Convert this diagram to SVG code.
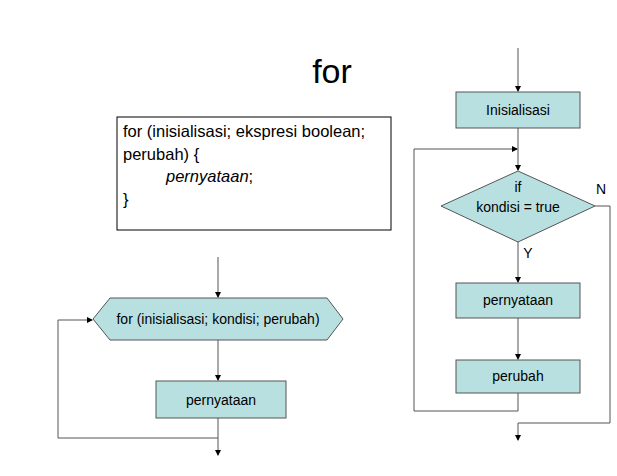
<svg xmlns="http://www.w3.org/2000/svg" width="617" height="476" viewBox="0 0 617 476">
<style>
text{font-family:"Liberation Sans",Arial,sans-serif;fill:#000}
.n{fill:#b9e0e0;stroke:#555;stroke-width:1}
.c{fill:none;stroke:#555;stroke-width:1}
.t{font-size:14px;text-anchor:middle}
.code{font-size:16.5px}
</style>
<defs><marker id="a" markerWidth="6" markerHeight="6" refX="5" refY="3" orient="auto" markerUnits="userSpaceOnUse"><path d="M0,0L6,3L0,6z" fill="#000"/></marker></defs>
<rect width="617" height="476" fill="#fff"/>
<text x="332" y="83" font-size="34" text-anchor="middle">for</text>
<g id="code"><rect x="117" y="117" width="274" height="113" fill="#fff" stroke="#000"/>
<text class="code" x="123" y="137">for (inisialisasi; ekspresi boolean;</text>
<text class="code" x="123" y="160">perubah) {</text>
<text class="code" x="166" y="182" font-style="italic">pernyataan<tspan font-style="normal">;</tspan></text>
<text class="code" x="123" y="205">}</text></g>
<g id="connectors">
<path class="c" d="M218,257V297" marker-end="url(#a)"/>
<path class="c" d="M218,340V380" marker-end="url(#a)"/>
<path class="c" d="M218,418V455" marker-end="url(#a)"/>
<path class="c" d="M218,438H58V320H92" marker-end="url(#a)"/>
<path class="c" d="M518,48V91" marker-end="url(#a)"/>
<path class="c" d="M518,128V170" marker-end="url(#a)"/>
<path class="c" d="M518,411H414V149H517" marker-end="url(#a)"/>
<path class="c" d="M518,242V282" marker-end="url(#a)"/>
<path class="c" d="M518,318V359" marker-end="url(#a)"/>
<path class="c" d="M518,393V411"/>
<path class="c" d="M595,206H610V423H518V440" marker-end="url(#a)"/>
</g>
<g id="for"><polygon class="n" points="93,319 110,298 327,298 343,319 327,340 110,340"/><text class="t" x="218" y="324">for (inisialisasi; kondisi; perubah)</text></g>
<g id="p1"><rect class="n" x="156" y="381" width="130" height="37"/><text class="t" x="221" y="405">pernyataan</text></g>
<g id="init"><rect class="n" x="456" y="92" width="124" height="36"/><text class="t" x="518" y="115">Inisialisasi</text></g>
<g id="dec"><polygon class="n" points="441,206 518,171 595,206 518,242"/><text class="t" x="518" y="192">if</text><text class="t" x="518" y="212">kondisi = true</text></g>
<text class="t" x="601" y="194">N</text><text class="t" x="528" y="258">Y</text>
<g id="p2"><rect class="n" x="456" y="283" width="124" height="35"/><text class="t" x="518" y="305">pernyataan</text></g>
<g id="upd"><rect class="n" x="456" y="360" width="124" height="33"/><text class="t" x="518" y="381">perubah</text></g>
</svg>
